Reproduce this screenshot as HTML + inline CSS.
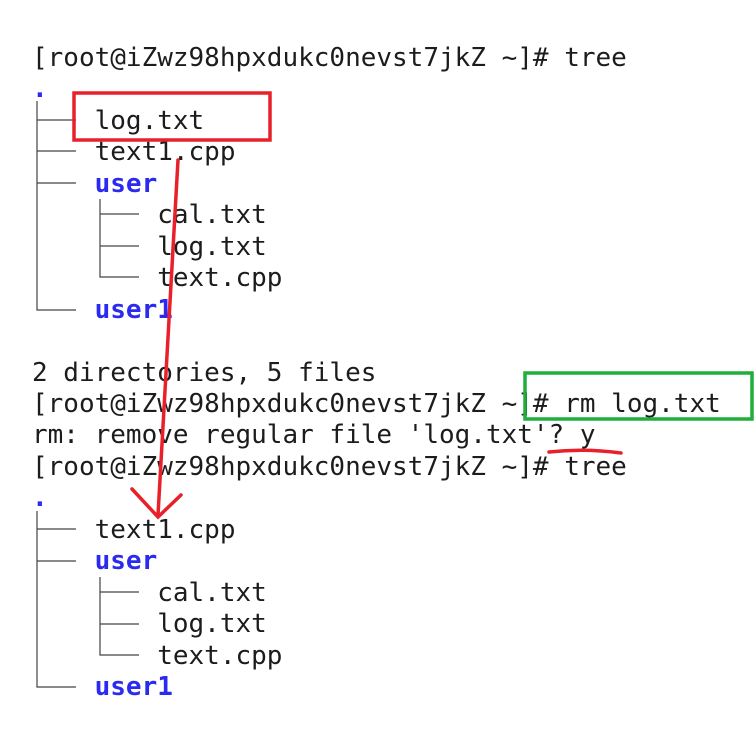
<!DOCTYPE html>
<html><head><style>
body{margin:0;background:#fff;width:755px;height:736px;overflow:hidden;position:relative}
pre{position:absolute;left:32px;top:43px;margin:0;font-family:"DejaVu Sans Mono","Liberation Mono",monospace;font-size:26px;line-height:31.45px;color:#1c1c1c}
b{color:#2b2bf0}
svg{position:absolute;left:0;top:0}
</style></head><body>
<pre>[root@iZwz98hpxdukc0nevst7jkZ ~]# tree
<b>.</b>
    log.txt
    text1.cpp
    <b>user</b>
        cal.txt
        log.txt
        text.cpp
    <b>user1</b>

2 directories, 5 files
[root@iZwz98hpxdukc0nevst7jkZ ~]# rm log.txt
rm: remove regular file 'log.txt'? y
[root@iZwz98hpxdukc0nevst7jkZ ~]# tree
<b>.</b>
    text1.cpp
    <b>user</b>
        cal.txt
        log.txt
        text.cpp
    <b>user1</b></pre>
<svg width="755" height="736" fill="none">
<g stroke="#444" stroke-width="1.2">
<path d="M37 101V310H76M37 120H76M37 151H76M37 183H76M100 199V277H139M100 214H139M100 246H139"/>
<path d="M37 511V687H76M37 529H76M37 561H76M100 577V655H139M100 592H139M100 624H139"/>
</g>
<rect x="74" y="93" width="196" height="47" stroke="#e8202a" stroke-width="3.5"/>
<rect x="525" y="373" width="227" height="46" stroke="#1fae3a" stroke-width="3.5"/>
<g stroke="#e8202a" stroke-width="3.5" stroke-linecap="round">
<path d="M178 160L158 515M132 489L158 517L181 495"/>
<path d="M549 452Q585 448 621 453"/>
</g>
</svg>
</body></html>
